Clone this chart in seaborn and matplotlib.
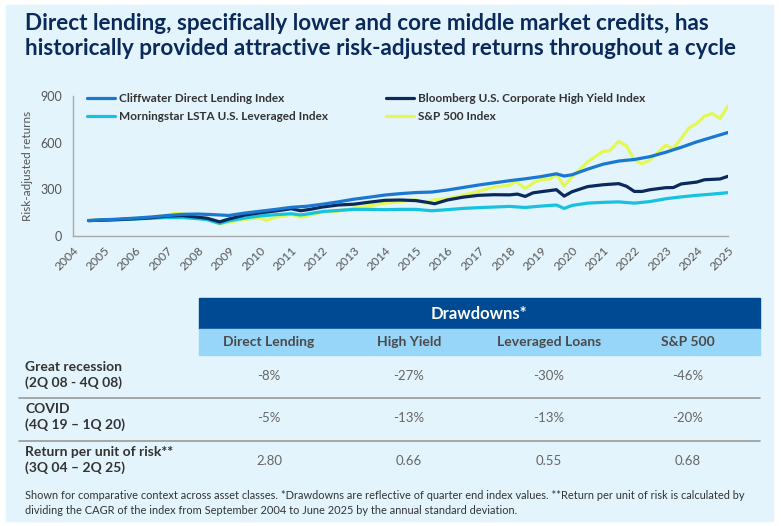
"""
Direct lending risk-adjusted returns chart with drawdown table.
"""

import pandas as pd
import seaborn as sns
import matplotlib.pyplot as plt
from matplotlib.patches import Rectangle


SERIES_NAMES = [
    "Cliffwater Direct Lending Index",
    "Morningstar LSTA U.S. Leveraged Index",
    "Bloomberg U.S. Corporate High Yield Index",
    "S&P 500 Index",
]

CLIFFWATER_YEARS = [
    2004.5, 2005, 2005.5, 2006, 2006.5, 2007, 2007.5, 2008, 2008.5, 2009,
    2009.5, 2010, 2010.5, 2011, 2011.5, 2012, 2012.5, 2013, 2013.5, 2014,
    2014.5, 2015, 2015.5, 2016, 2016.5, 2017, 2017.5, 2018, 2018.5, 2019,
    2019.5, 2019.75, 2020, 2020.5, 2021, 2021.5, 2022, 2022.5, 2023, 2023.5,
    2024, 2024.5, 2025,
]
CLIFFWATER_VALUES = [
    100, 105, 110, 116, 123, 132, 140, 142, 138, 133,
    148, 160, 172, 185, 192, 205, 220, 237, 250, 264,
    273, 280, 283, 296, 312, 328, 342, 356, 368, 382,
    400, 386, 394, 430, 462, 482, 492, 510, 538, 570,
    605, 635, 665,
]

LSTA_YEARS = [
    2004.5, 2005, 2005.5, 2006, 2006.5, 2007, 2007.5, 2008, 2008.3, 2008.7,
    2009, 2009.5, 2010, 2010.5, 2011, 2011.3, 2011.6, 2012, 2012.5, 2013,
    2013.5, 2014, 2014.5, 2015, 2015.5, 2016, 2016.5, 2017, 2017.5, 2018,
    2018.5, 2019, 2019.5, 2019.75, 2020, 2020.5, 2021, 2021.5, 2022, 2022.5,
    2023, 2023.5, 2024, 2024.5, 2025,
]
LSTA_VALUES = [
    100, 103, 106, 110, 115, 120, 120, 112, 106, 82,
    98, 116, 130, 138, 144, 136, 145, 158, 165, 172,
    172, 170, 172, 172, 163, 170, 178, 183, 187, 191,
    184, 193, 200, 178, 197, 212, 217, 220, 212, 222,
    240, 252, 262, 270, 279,
]

HIGH_YIELD_YEARS = [
    2004.5, 2005, 2005.5, 2006, 2006.5, 2007, 2007.5, 2008, 2008.3, 2008.7,
    2009, 2009.5, 2010, 2010.5, 2011, 2011.3, 2011.6, 2012, 2012.5, 2013,
    2013.5, 2014, 2014.5, 2015, 2015.3, 2015.6, 2016, 2016.5, 2017, 2017.5,
    2018, 2018.25, 2018.5, 2018.75, 2019, 2019.5, 2019.75, 2020, 2020.5, 2021,
    2021.5, 2021.75, 2022, 2022.25, 2022.5, 2023, 2023.25, 2023.5, 2024, 2024.25,
    2024.75, 2025,
]
HIGH_YIELD_VALUES = [
    100, 103, 107, 112, 118, 128, 132, 122, 115, 92,
    110, 135, 150, 162, 176, 163, 172, 187, 200, 205,
    218, 230, 232, 228, 219, 208, 232, 250, 262, 266,
    265, 270, 255, 278, 285, 298, 257, 285, 318, 330,
    337, 320, 287, 287, 298, 311, 312, 335, 347, 362,
    367, 384,
]

SP500_YEARS = [
    2004.5, 2005, 2005.5, 2006, 2006.5, 2007, 2007.3, 2007.6, 2008, 2008.3,
    2008.7, 2009, 2009.5, 2010, 2010.2, 2010.5, 2011, 2011.3, 2011.6, 2012,
    2012.5, 2013, 2013.5, 2014, 2014.5, 2015, 2015.3, 2015.6, 2016, 2016.5,
    2017, 2017.5, 2018, 2018.2, 2018.5, 2018.8, 2019, 2019.3, 2019.5, 2019.75,
    2020, 2020.5, 2021, 2021.2, 2021.5, 2021.75, 2022, 2022.25, 2022.5, 2023,
    2023.25, 2023.5, 2023.75, 2024, 2024.25, 2024.5, 2024.75, 2025,
]
SP500_VALUES = [
    100, 105, 108, 115, 120, 135, 148, 140, 120, 112,
    78, 90, 108, 118, 100, 122, 140, 122, 135, 154,
    160, 180, 195, 212, 222, 234, 212, 234, 240, 262,
    287, 315, 326, 354, 305, 347, 362, 367, 397, 322,
    380, 476, 545, 547, 609, 579, 487, 465, 487, 583,
    562, 626, 694, 723, 770, 787, 755, 836,
]

LINE_COLORS = ["#1A78D2", "#16C2DF", "#0B2A5C", "#E3F852"]

TABLE_COLUMNS = ["Direct Lending", "High Yield", "Leveraged Loans", "S&P 500"]
TABLE_ROW_TITLES = ["Great recession", "COVID", "Return per unit of risk**"]
TABLE_ROW_PERIODS = ["(2Q 08 - 4Q 08)", "(4Q 19 \u2013 1Q 20)", "(3Q 04 \u2013 2Q 25)"]
TABLE_VALUES = [
    ["-8%", "-27%", "-30%", "-46%"],
    ["-5%", "-13%", "-13%", "-20%"],
    ["2.80", "0.66", "0.55", "0.68"],
]

TITLE = (
    "Direct lending, specifically lower and core middle market credits, has\n"
    "historically provided attractive risk-adjusted returns throughout a cycle"
)
FOOTNOTE = (
    "Shown for comparative context across asset classes. *Drawdowns are "
    "reflective of quarter end index values. **Return per unit of risk is "
    "calculated by\ndividing the CAGR of the index from September 2004 to "
    "June 2025 by the annual standard deviation."
)

PANEL = "#E3F4FC"


def build_dataframe() -> pd.DataFrame:
    """Long-form frame of all four index series."""
    parts = []
    pairs = [
        (CLIFFWATER_YEARS, CLIFFWATER_VALUES),
        (LSTA_YEARS, LSTA_VALUES),
        (HIGH_YIELD_YEARS, HIGH_YIELD_VALUES),
        (SP500_YEARS, SP500_VALUES),
    ]
    for name, (years, values) in zip(SERIES_NAMES, pairs):
        parts.append(pd.DataFrame({"Year": years, "Value": values, "Index": name}))
    return pd.concat(parts, ignore_index=True)


def draw_chart(fig, data: pd.DataFrame) -> None:
    """Line chart in the upper part of the figure."""
    ax = fig.add_axes([0.0935, 0.551, 0.8385, 0.2667])
    ax.set_facecolor(PANEL)

    # draw S&P first, the credit lines cross over it
    draw_order = [SERIES_NAMES[3], SERIES_NAMES[1], SERIES_NAMES[2], SERIES_NAMES[0]]
    palette = dict(zip(SERIES_NAMES, LINE_COLORS))
    for name in draw_order:
        sns.lineplot(
            data=data[data["Index"] == name],
            x="Year",
            y="Value",
            color=palette[name],
            linewidth=2.3,
            ax=ax,
            label=name,
            legend=False,
        )

    ax.set_xlim(2004, 2025)
    ax.set_ylim(0, 900)
    ax.set_xticks(range(2004, 2026))
    ax.set_xticklabels(
        [str(y) for y in range(2004, 2026)],
        rotation=45, ha="right", rotation_mode="anchor",
        fontsize=8.7, color="#555555",
    )
    ax.set_yticks([0, 300, 600, 900])
    ax.set_yticklabels(["0", "300", "600", "900"], fontsize=9, color="#555555")
    ax.tick_params(axis="x", length=4, color="#AAAAAA", pad=2)
    ax.tick_params(axis="y", length=0, pad=8)
    ax.set_xlabel("")
    ax.set_ylabel("Risk-adjusted returns", fontsize=8.5, color="#555555", labelpad=5)
    for side in ["top", "right"]:
        ax.spines[side].set_visible(False)
    for side in ["left", "bottom"]:
        ax.spines[side].set_color("#AAAAAA")
        ax.spines[side].set_linewidth(1)
    ax.grid(False)

    handles = {h.get_label(): h for h in ax.get_lines()}
    ax.legend(
        [handles[n] for n in SERIES_NAMES],
        SERIES_NAMES,
        ncol=2,
        loc="upper left",
        bbox_to_anchor=(0.005, 1.095),
        frameon=False,
        handlelength=2.4,
        handletextpad=0.3,
        columnspacing=4.9,
        labelspacing=0.55,
        prop={"weight": "bold", "size": 8.5},
        labelcolor="#333333",
    )


def draw_table(fig) -> None:
    """Drawdown table under the chart, in pixel coordinates."""
    w, h = 781, 526

    def fx(x):
        return x / w

    def fy(y):
        return 1 - y / h

    fig.patches.append(Rectangle((fx(199), fy(329)), fx(561), 31 / h,
                                 transform=fig.transFigure, color="#004A93"))
    fig.patches.append(Rectangle((fx(199), fy(355)), fx(561), 26 / h,
                                 transform=fig.transFigure, color="#97D6F8"))
    fig.text(fx(479), fy(314), "Drawdowns*", ha="center", va="center",
             color="white", fontsize=12, fontweight="bold")

    col_x = [269, 409, 549, 688]
    for x, label in zip(col_x, TABLE_COLUMNS):
        fig.text(fx(x), fy(342), label, ha="center", va="center",
                 color="#4A4A4A", fontsize=10, fontweight="bold")

    row_y = [376, 418, 461]
    for i, y in enumerate(row_y):
        fig.text(fx(25), fy(y - 9), TABLE_ROW_TITLES[i], ha="left", va="center",
                 color="#333333", fontsize=10, fontweight="bold")
        fig.text(fx(25), fy(y + 7), TABLE_ROW_PERIODS[i], ha="left", va="center",
                 color="#333333", fontsize=10, fontweight="bold")
        for x, value in zip(col_x, TABLE_VALUES[i]):
            fig.text(fx(x), fy(y), value, ha="center", va="center",
                     color="#666666", fontsize=9.5)

    for y in [398, 441]:
        fig.add_artist(plt.Line2D([fx(19), fx(760)], [fy(y), fy(y)],
                                  transform=fig.transFigure,
                                  color="#9A9A9A", linewidth=1.2))

    fig.text(fx(25), fy(503), FOOTNOTE, ha="left", va="center",
             color="#333333", fontsize=7.9, linespacing=1.35)


def main() -> None:
    """Build and save the figure."""
    sns.set_theme(style="white")
    plt.rcParams["font.family"] = ["Lato", "DejaVu Sans"]

    fig = plt.figure(figsize=(7.81, 5.26), dpi=100)
    fig.patch.set_facecolor("white")
    fig.patches.append(Rectangle((6 / 781, 1 - 521 / 526), 767 / 781, 516 / 526,
                                 transform=fig.transFigure, color=PANEL, zorder=-5))

    fig.text(25 / 781, 1 - 36 / 526, TITLE, ha="left", va="center",
             color="#0B2A5C", fontsize=16.2, fontweight="bold", linespacing=1.25)

    draw_chart(fig, build_dataframe())
    draw_table(fig)

    fig.savefig("out.png", dpi=100, facecolor="white")


if __name__ == "__main__":
    main()
